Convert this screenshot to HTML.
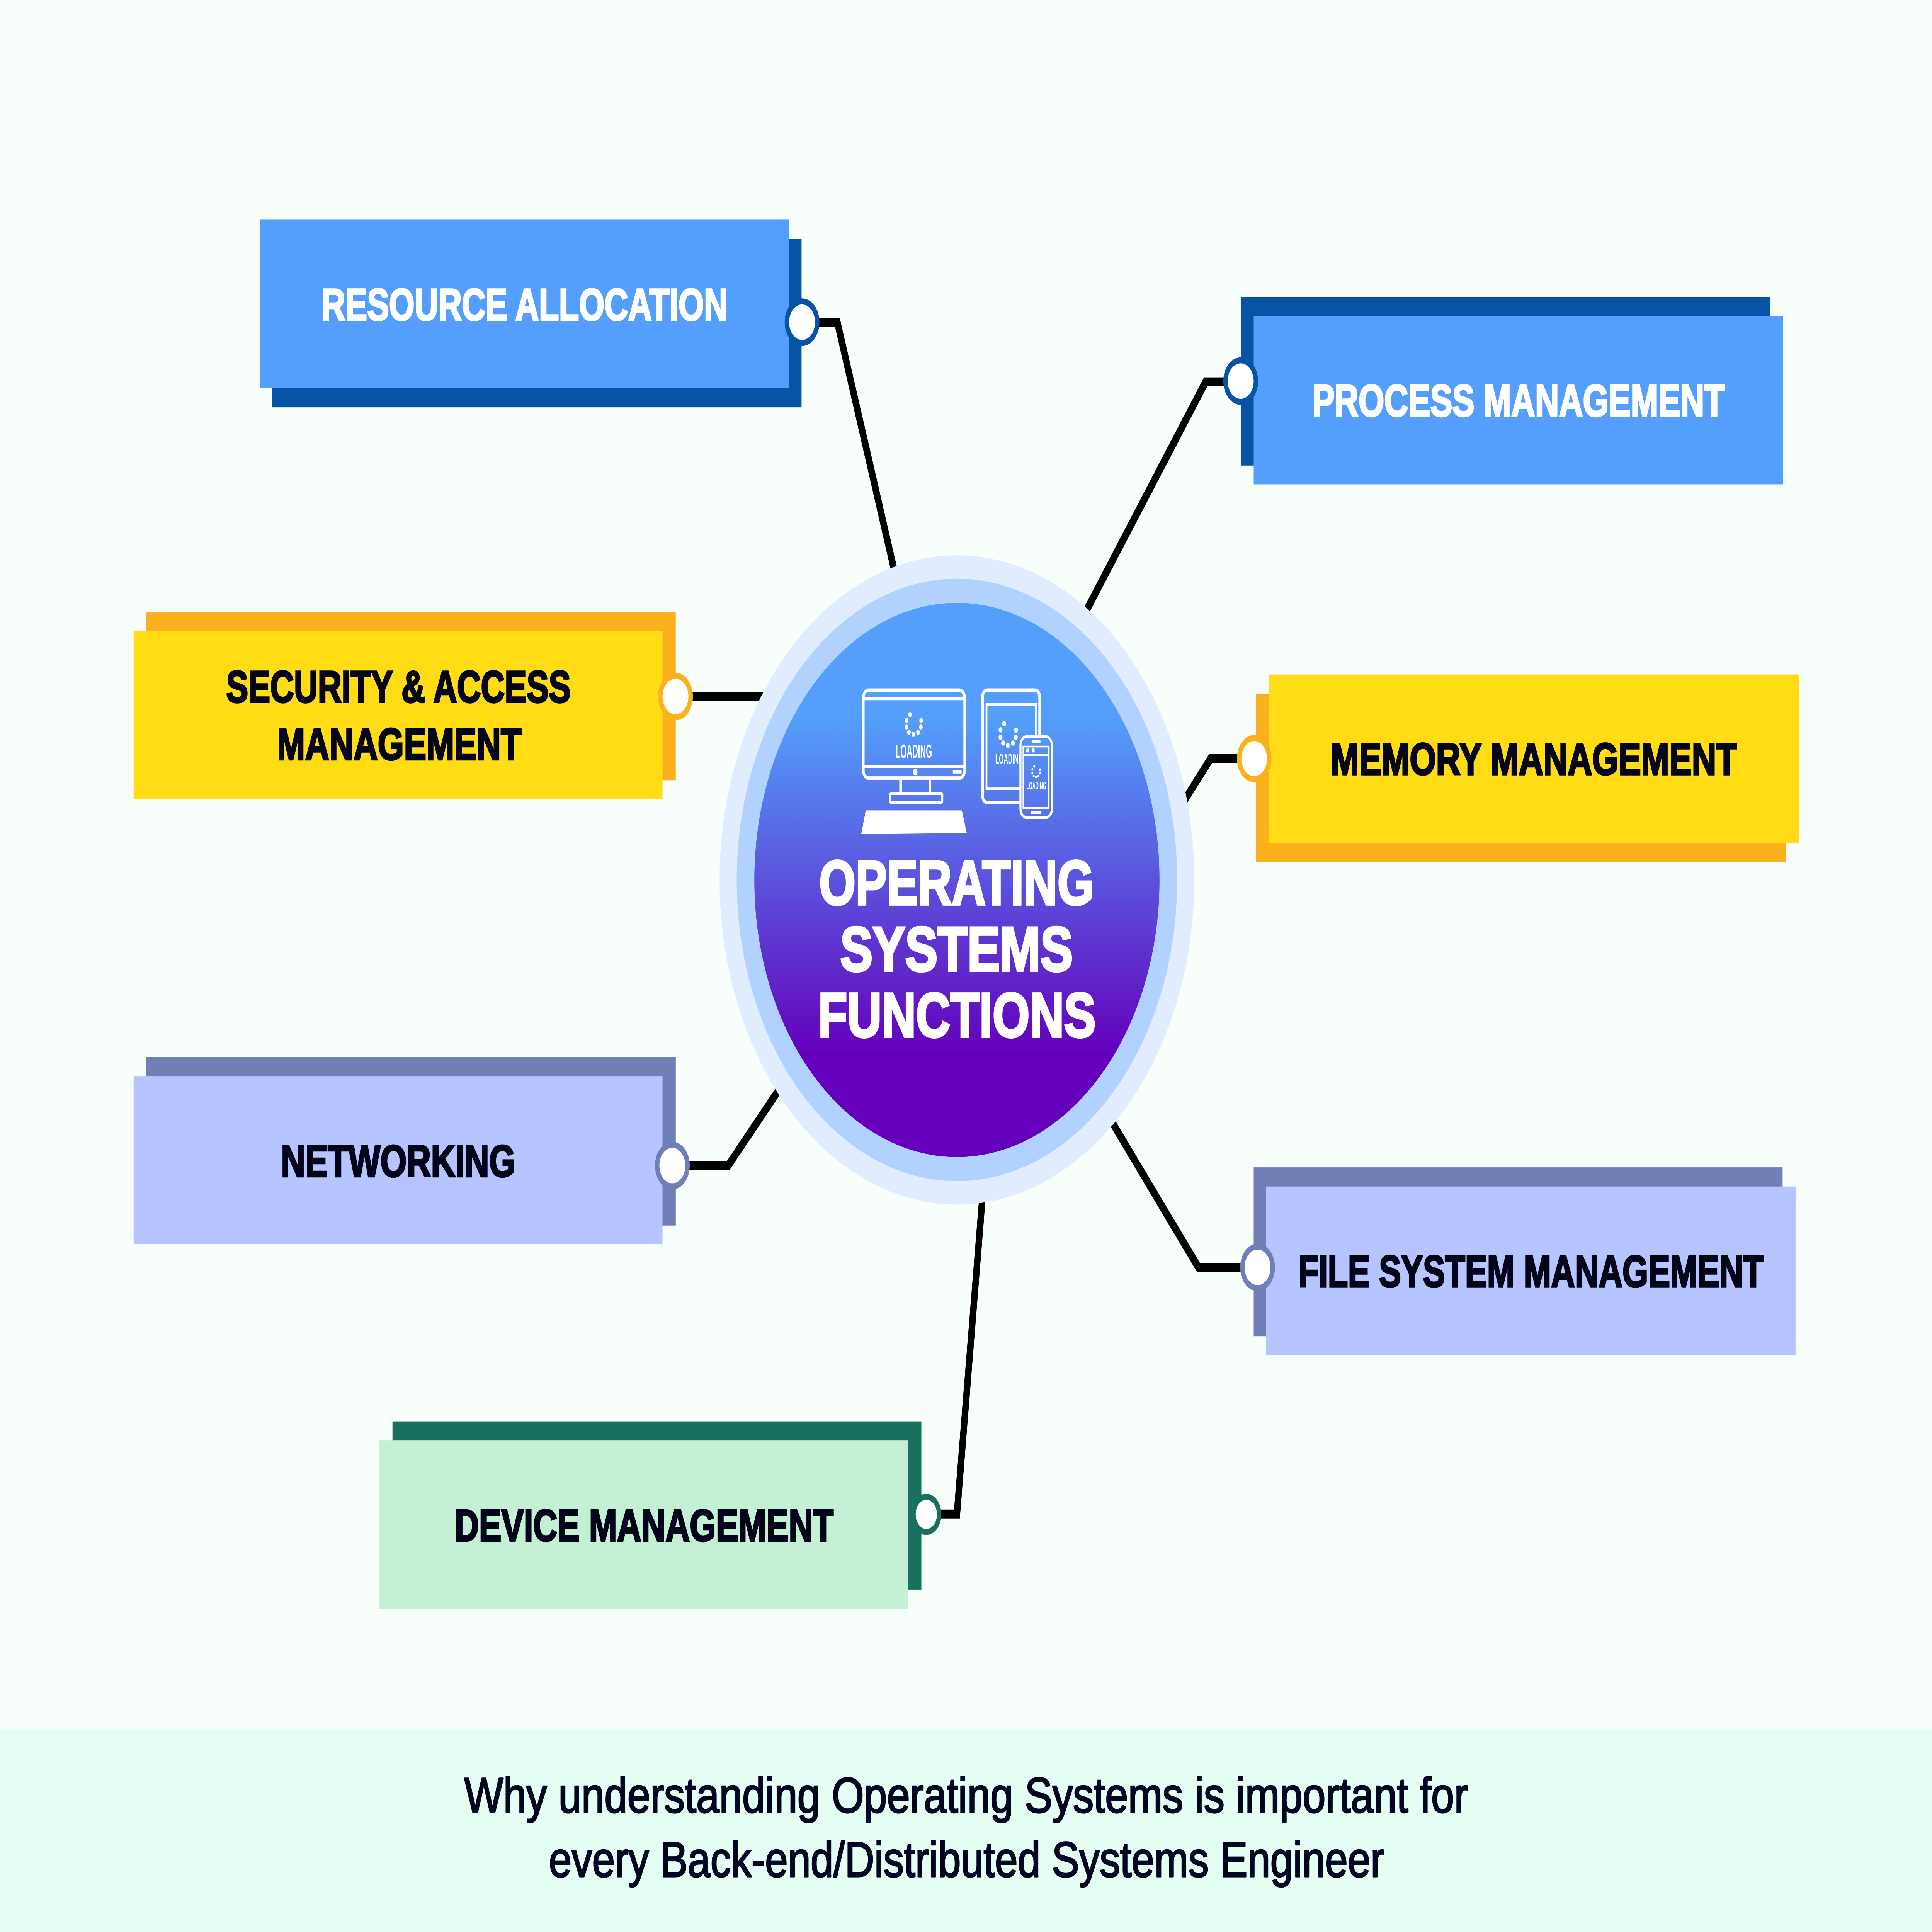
<!DOCTYPE html>
<html lang="en">
<head>
<meta charset="utf-8">
<title>Operating Systems Functions</title>
<style>
html,body{margin:0;padding:0;width:100%;height:100%;overflow:hidden;background:#F8FFFB;}
svg{display:block;width:100vw;height:100vh;overflow:hidden;}
text{font-family:"Liberation Sans",sans-serif;}
.lab{font-size:126px;font-weight:700;stroke-width:5px;stroke-linejoin:miter;}
.dk{fill:#040419;stroke:#040419;}
.wh{fill:#fff;stroke:#fff;}
.ttl{font-size:177px;font-weight:700;fill:#fff;stroke:#fff;stroke-width:7px;stroke-linejoin:miter;}
.foot{font-size:140px;font-weight:400;fill:#040520;stroke:#040520;stroke-width:4px;stroke-linejoin:round;}
.ln{fill:none;stroke:#000;stroke-width:25;stroke-linejoin:miter;stroke-miterlimit:8;}
.ic{fill:none;stroke:#fff;}
.load{fill:#fff;font-weight:700;}
</style>
</head>
<body>
<svg xmlns="http://www.w3.org/2000/svg" viewBox="0 0 7448 5445" preserveAspectRatio="none">
<defs>
<linearGradient id="g" gradientUnits="userSpaceOnUse" x1="0" y1="1699" x2="0" y2="3261">
<stop offset="0.207" stop-color="#539FFB"/>
<stop offset="0.815" stop-color="#6400BB"/>
</linearGradient>
</defs>
<rect width="7448" height="5445" fill="#F8FFFB"/>
<rect y="4872" width="7448" height="573" fill="#E4FEF3"/>

<!-- connectors -->
<polyline class="ln" points="3092,908 3228,908 3454,1628"/>
<polyline class="ln" points="4783,1076 4648,1076 4175,1739"/>
<polyline class="ln" points="4835,2138 4667,2138 4555,2269"/>
<polyline class="ln" points="2604,1963 2970,1963"/>
<polyline class="ln" points="2592,3285 2807,3285 3015,3058"/>
<polyline class="ln" points="3571,4267 3689,4267 3789,3360"/>
<polyline class="ln" points="4848,3572 4620,3572 4276,3149"/>

<!-- boxes -->
<rect x="1049" y="673" width="2041" height="475" fill="#0853A6"/>
<rect x="1001" y="619" width="2041" height="475" fill="#539FFB"/>
<circle cx="3092" cy="908" r="58.5" fill="#fff" stroke="#0853A6" stroke-width="17"/>
<text class="lab wh" x="1240" y="902" textLength="1565" lengthAdjust="spacingAndGlyphs">RESOURCE ALLOCATION</text>

<rect x="4783" y="837" width="2042" height="475" fill="#0853A6"/>
<rect x="4833" y="890" width="2041" height="475" fill="#539FFB"/>
<circle cx="4783" cy="1074" r="58.5" fill="#fff" stroke="#0853A6" stroke-width="17"/>
<text class="lab wh" x="5060" y="1173" textLength="1588" lengthAdjust="spacingAndGlyphs">PROCESS MANAGEMENT</text>

<rect x="4842" y="1955" width="2044" height="474" fill="#FBB11E"/>
<rect x="4892" y="1901" width="2042" height="475" fill="#FFDC14"/>
<circle cx="4835" cy="2138" r="58" fill="#fff" stroke="#FBB11E" stroke-width="17"/>
<text class="lab dk" x="5130" y="2183" textLength="1566" lengthAdjust="spacingAndGlyphs">MEMORY MANAGEMENT</text>

<rect x="563" y="1724" width="2042" height="475" fill="#FBB11E"/>
<rect x="515" y="1778" width="2039" height="474" fill="#FFDC14"/>
<circle cx="2604" cy="1963" r="58.5" fill="#fff" stroke="#FBB11E" stroke-width="17"/>
<text class="lab dk" x="872" y="1979" textLength="1328" lengthAdjust="spacingAndGlyphs">SECURITY &amp; ACCESS</text>
<text class="lab dk" x="1068" y="2141" textLength="942" lengthAdjust="spacingAndGlyphs">MANAGEMENT</text>

<rect x="563" y="2979" width="2042" height="475" fill="#707FB5"/>
<rect x="515" y="3033" width="2039" height="473" fill="#B6C4FF"/>
<circle cx="2592" cy="3285" r="58.5" fill="#fff" stroke="#707FB5" stroke-width="17"/>
<text class="lab dk" x="1083" y="3316" textLength="904" lengthAdjust="spacingAndGlyphs">NETWORKING</text>

<rect x="4833" y="3290" width="2039" height="476" fill="#707FB5"/>
<rect x="4881" y="3344" width="2041" height="475" fill="#B6C4FF"/>
<circle cx="4848" cy="3572" r="58.5" fill="#fff" stroke="#707FB5" stroke-width="17"/>
<text class="lab dk" x="5006" y="3627" textLength="1792" lengthAdjust="spacingAndGlyphs">FILE SYSTEM MANAGEMENT</text>

<rect x="1513" y="4006" width="2039" height="474" fill="#19705F"/>
<rect x="1461" y="4060" width="2041" height="474" fill="#C4F0D6"/>
<circle cx="3571" cy="4268" r="49.5" fill="#fff" stroke="#19705F" stroke-width="17"/>
<text class="lab dk" x="1753" y="4343" textLength="1460" lengthAdjust="spacingAndGlyphs">DEVICE MANAGEMENT</text>

<!-- central circle -->
<circle cx="3689" cy="2480" r="915" fill="#E1ECFF"/>
<circle cx="3689" cy="2480" r="849" fill="#B1D2FF"/>
<circle cx="3689" cy="2480" r="781" fill="url(#g)"/>

<!-- monitor icon -->
<rect class="ic" x="3328" y="1945" width="391" height="248" rx="22" stroke-width="10"/>
<line class="ic" x1="3328" y1="1969" x2="3719" y2="1969" stroke-width="9"/>
<line class="ic" x1="3328" y1="2160" x2="3719" y2="2160" stroke-width="9"/>
<circle cx="3528" cy="2176" r="9" fill="#fff"/>
<rect x="3673" y="2170" width="34" height="10" fill="#fff"/>
<line class="ic" x1="3472" y1="2198" x2="3472" y2="2234" stroke-width="10"/>
<line class="ic" x1="3585" y1="2198" x2="3585" y2="2234" stroke-width="10"/>
<rect class="ic" x="3432" y="2236" width="200" height="26" rx="5" stroke-width="9"/>
<path d="M3340 2284 H3706 Q3708 2284 3710 2290 L3727 2348 L3320 2351 L3336 2290 Q3337 2284 3340 2284 Z" fill="#fff"/>
<g fill="#fff">
<circle cx="3508" cy="2014" r="7"/><circle cx="3495" cy="2030" r="7"/><circle cx="3495" cy="2049" r="7"/><circle cx="3504" cy="2064" r="7"/><circle cx="3521" cy="2070" r="7"/><circle cx="3539" cy="2064" r="7"/><circle cx="3550" cy="2049" r="7"/><circle cx="3551" cy="2031" r="7"/>
</g>
<text class="load" x="3453" y="2136" font-size="55" textLength="140" lengthAdjust="spacingAndGlyphs">LOADING</text>

<!-- tablet icon -->
<rect class="ic" x="3788" y="1945" width="220" height="317" rx="18" stroke-width="10"/>
<rect class="ic" x="3803" y="1985" width="190" height="238" stroke-width="7"/>
<g fill="#fff">
<circle cx="3871" cy="2040" r="7.5"/><circle cx="3857" cy="2057" r="7.5"/><circle cx="3857" cy="2078" r="7.5"/><circle cx="3867" cy="2094" r="7.5"/><circle cx="3885" cy="2101" r="7.5"/><circle cx="3905" cy="2094" r="7.5"/><circle cx="3916" cy="2078" r="7.5"/><circle cx="3917" cy="2058" r="7.5"/>
</g>
<text class="load" x="3837" y="2152" font-size="38" textLength="107" lengthAdjust="spacingAndGlyphs">LOADING</text>

<!-- phone icon -->
<rect x="3934" y="2076" width="121" height="228" rx="24" fill="url(#g)" stroke="#fff" stroke-width="8"/>
<rect class="ic" x="3944.5" y="2104" width="99" height="173" stroke-width="5"/>
<line class="ic" x1="3944" y1="2128" x2="4044" y2="2128" stroke-width="5"/>
<circle cx="3962" cy="2115" r="6" fill="#fff"/><circle cx="3983" cy="2115" r="6" fill="#fff"/>
<rect x="3977" y="2086" width="35" height="8" rx="4" fill="#fff"/>
<rect x="3974" y="2286" width="41" height="8" rx="4" fill="#fff"/>
<g fill="#fff">
<circle cx="3987" cy="2160" r="3.8"/><circle cx="3980" cy="2168" r="3.8"/><circle cx="3980" cy="2179" r="3.8"/><circle cx="3985" cy="2187" r="3.8"/><circle cx="3994" cy="2190" r="3.8"/><circle cx="4003" cy="2187" r="3.8"/><circle cx="4009" cy="2179" r="3.8"/><circle cx="4009" cy="2169" r="3.8"/>
</g>
<text class="load" x="3957" y="2225" font-size="30" textLength="76" lengthAdjust="spacingAndGlyphs">LOADING</text>

<!-- title -->
<text class="ttl" x="3158" y="2549" textLength="1059" lengthAdjust="spacingAndGlyphs">OPERATING</text>
<text class="ttl" x="3239" y="2736" textLength="897" lengthAdjust="spacingAndGlyphs">SYSTEMS</text>
<text class="ttl" x="3154" y="2922" textLength="1070" lengthAdjust="spacingAndGlyphs">FUNCTIONS</text>

<!-- footer -->
<text class="foot" x="1790" y="5108" textLength="3869" lengthAdjust="spacingAndGlyphs">Why understanding Operating Systems is important for</text>
<text class="foot" x="2116" y="5289" textLength="3220" lengthAdjust="spacingAndGlyphs">every Back-end/Distributed Systems Engineer</text>
</svg>
</body>
</html>
